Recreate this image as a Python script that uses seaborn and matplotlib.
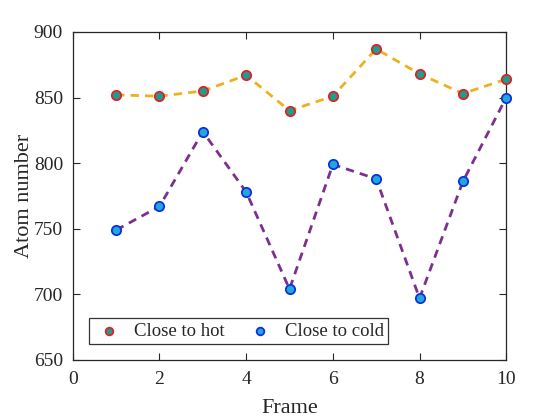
import matplotlib
matplotlib.use("Agg")
import matplotlib.pyplot as plt
import seaborn as sns
import pandas as pd

frames = [1, 2, 3, 4, 5, 6, 7, 8, 9, 10]
hot = [852, 851, 855, 867, 840, 851, 887, 868, 853, 864]
cold = [749, 767, 824, 778, 704, 799, 788, 697, 786, 850]
labels = ["Close to hot", "Close to cold"]

sns.set_style("white")
plt.rcParams['font.family'] = ['Liberation Serif', 'DejaVu Serif']
plt.rcParams['mathtext.fontset'] = 'stix'

df = pd.DataFrame({"Frame": frames, "hot": hot, "cold": cold})

fig = plt.figure(figsize=(5.6, 4.2), dpi=100)
ax = fig.add_axes([0.130, 0.143, 0.774, 0.781])

line_kw = dict(linewidth=2.0, dashes=(3.0, 2.2), ax=ax, legend=False)
sns.lineplot(data=df, x="Frame", y="hot", color="#EDB120", **line_kw)
sns.lineplot(data=df, x="Frame", y="cold", color="#7E2F8E", **line_kw)

sns.scatterplot(data=df, x="Frame", y="hot", ax=ax, s=45, color="#1E9C8C",
                edgecolor="#E0202A", linewidth=1.3, label=labels[0], zorder=5,
                clip_on=False)
sns.scatterplot(data=df, x="Frame", y="cold", ax=ax, s=45, color="#1FA8D8",
                edgecolor="#1030E0", linewidth=1.3, label=labels[1], zorder=5,
                clip_on=False)

ax.set_xlim(0, 10)
ax.set_ylim(650, 900)
ax.set_xticks([0, 2, 4, 6, 8, 10])
ax.set_yticks([650, 700, 750, 800, 850, 900])
ax.set_xlabel("Frame", fontsize=16, labelpad=8)
ax.set_ylabel("Atom number", fontsize=16, labelpad=0)
ax.tick_params(direction="in", length=5, width=0.8, labelsize=14,
               top=True, right=True, bottom=True, left=True, colors="#262626")
ax.tick_params(axis="x", pad=8)
ax.tick_params(axis="y", pad=7)
for sp in ax.spines.values():
    sp.set_color("#262626")
    sp.set_linewidth(0.9)
    sp.set_visible(True)

leg = ax.legend(loc="lower left", bbox_to_anchor=(0.037, 0.049), ncol=2,
                fontsize=13.5, frameon=True, fancybox=False, edgecolor="black",
                handletextpad=0.5, columnspacing=1.0, borderpad=0.22,
                handlelength=1.7, borderaxespad=0)
leg.get_frame().set_linewidth(0.9)
for h in leg.legend_handles:
    h.set_sizes([30])

fig.savefig("out.png", dpi=100)
